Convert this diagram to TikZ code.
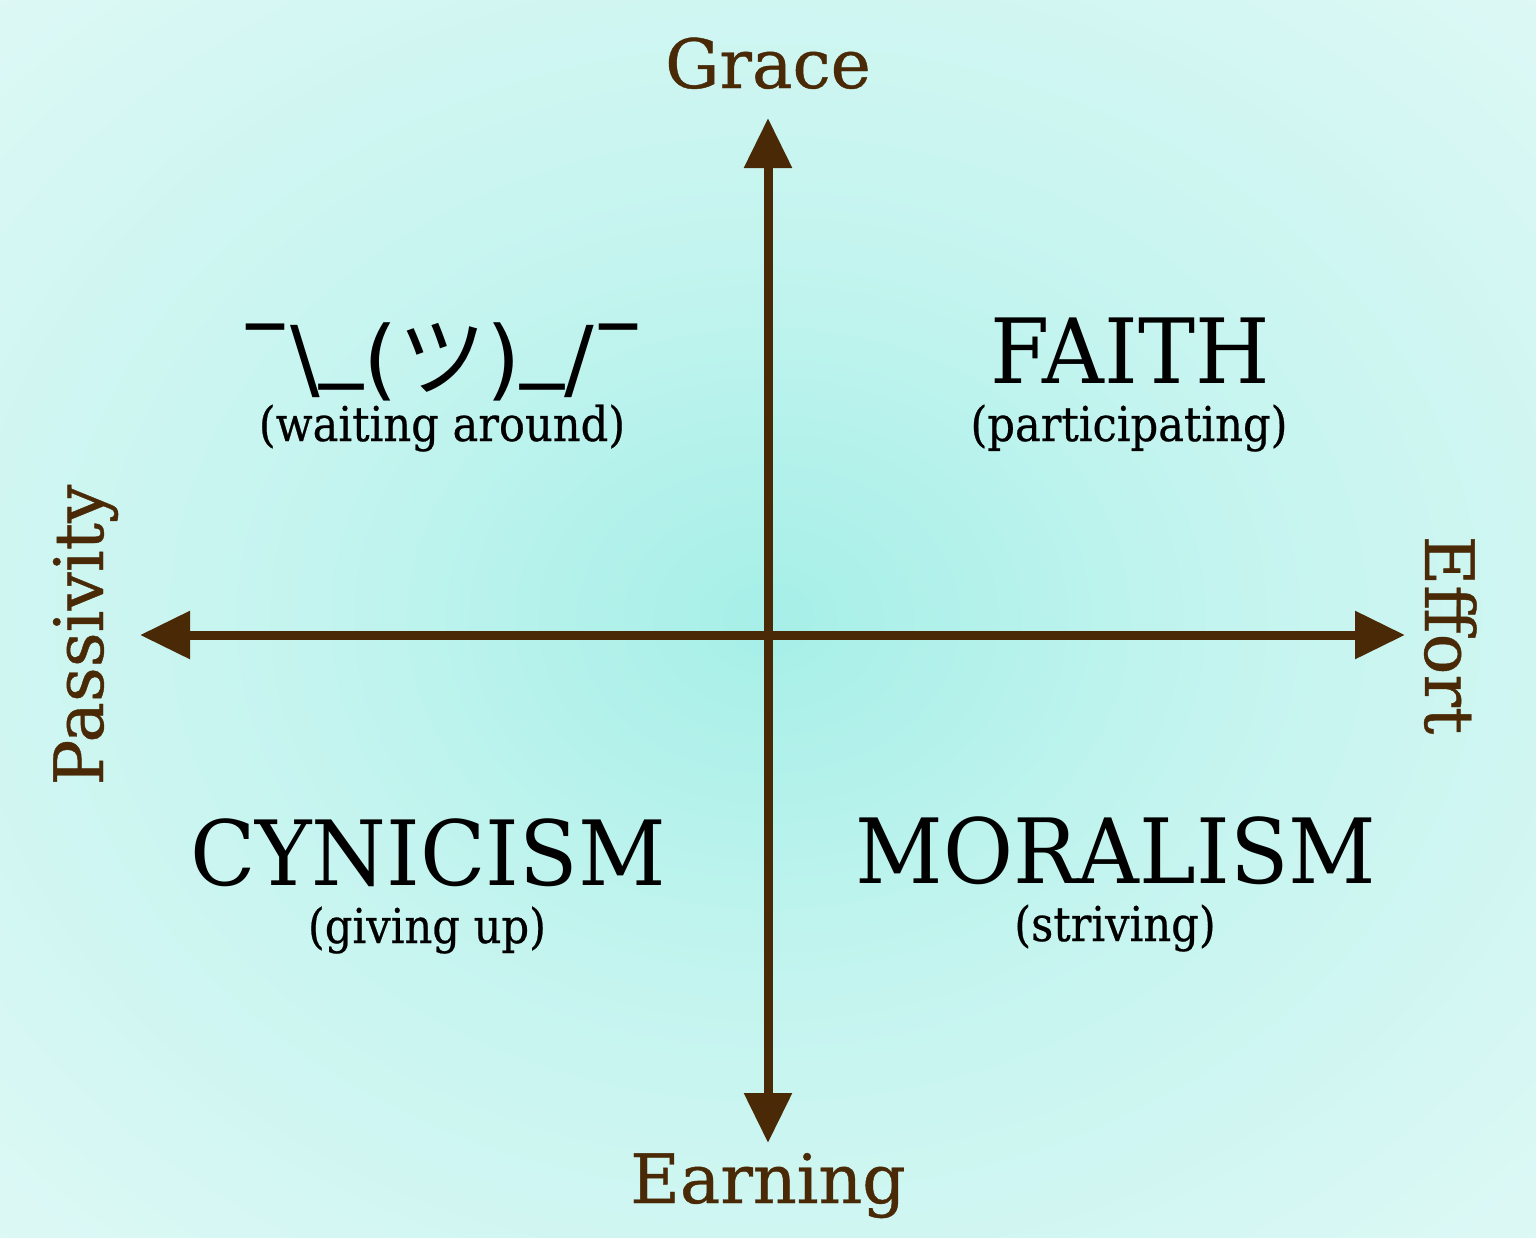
\documentclass[tikz,border=0pt]{standalone}
\usepackage{fontspec}
\setmainfont{DejaVu Serif}
\newfontfamily\labelfont[FakeBold=0.6]{DejaVu Serif}
\newfontfamily\titlefont[FakeStretch=0.95]{DejaVu Serif}
\newfontfamily\subfont[FakeStretch=0.9,FakeBold=0.5]{DejaVu Serif}
\newfontfamily\shrugfont{DejaVu Sans}
\newfontfamily\cjkfont{Noto Sans CJK JP}
\usetikzlibrary{arrows.meta}
\definecolor{axisbrown}{HTML}{4A2A06}
\definecolor{glowin}{HTML}{A6EFE8}
\definecolor{glowmid}{HTML}{C4F4EF}
\definecolor{glowout}{HTML}{E0F9F6}
\pgfdeclareradialshading{bgglow}{\pgfpoint{0bp}{0bp}}{color(0bp)=(glowin); color(15bp)=(glowmid); color(38bp)=(glowout); color(50bp)=(glowout)}
\newcommand{\widemacron}{\kern-0.1em\scalebox{1.5}[1]{¯}\kern-0.1em}
\newcommand{\liftbar}{\raisebox{0.22em}{\_}}
\begin{document}
\begin{tikzpicture}[x=0.5pt, y=-0.5pt,
  axis/.style={draw=axisbrown, line width=4.5pt, {Triangle[width=23pt,length=25pt]}-{Triangle[width=23pt,length=25pt]}},
  axislabel/.style={text=axisbrown, inner sep=0pt, anchor=base, font=\labelfont\fontsize{34}{40}\selectfont},
  quadtitle/.style={text=black, inner sep=0pt, anchor=base, font=\titlefont\fontsize{45}{52}\selectfont},
  quadsub/.style={text=black, inner sep=0pt, anchor=base, font=\subfont\fontsize{24}{28}\selectfont}]
\useasboundingbox (0,0) rectangle (1536,1237);
\shade[shading=bgglow] (0,0) rectangle (1536,1237);

% axis ends
\coordinate (top) at (768,118);
\coordinate (bottom) at (768,1143);
\coordinate (left) at (140,635);
\coordinate (right) at (1405,635);
\draw[axis] (bottom) -- (top);
\draw[axis] (left) -- (right);

% axis labels
\node[axislabel] (grace) at (768,88) {Grace};
\node[axislabel] (earning) at (768,1203) {Earning};
\node[axislabel, rotate=90] (passivity) at (103,635) {Passivity};
\node[axislabel, rotate=-90] (effort) at (1425,635) {Effort};

% quadrants
\node[quadtitle, font=\fontsize{44}{52}\selectfont] (shrug) at (442,389) {\shrugfont\widemacron\textbackslash\liftbar(\cjkfont ツ\shrugfont )\liftbar/\widemacron};
\node[quadsub] (waiting) at (442,441) {(waiting around)};
\node[quadtitle] (faith) at (1130,383) {FAITH};
\node[quadsub] (participating) at (1129,441) {(participating)};
\node[quadtitle] (cynicism) at (428,885) {CYNICISM};
\node[quadsub] (givingup) at (427,943) {(giving up)};
\node[quadtitle] (moralism) at (1116,883) {MORALISM};
\node[quadsub] (striving) at (1115,941) {(striving)};
\end{tikzpicture}
\end{document}
